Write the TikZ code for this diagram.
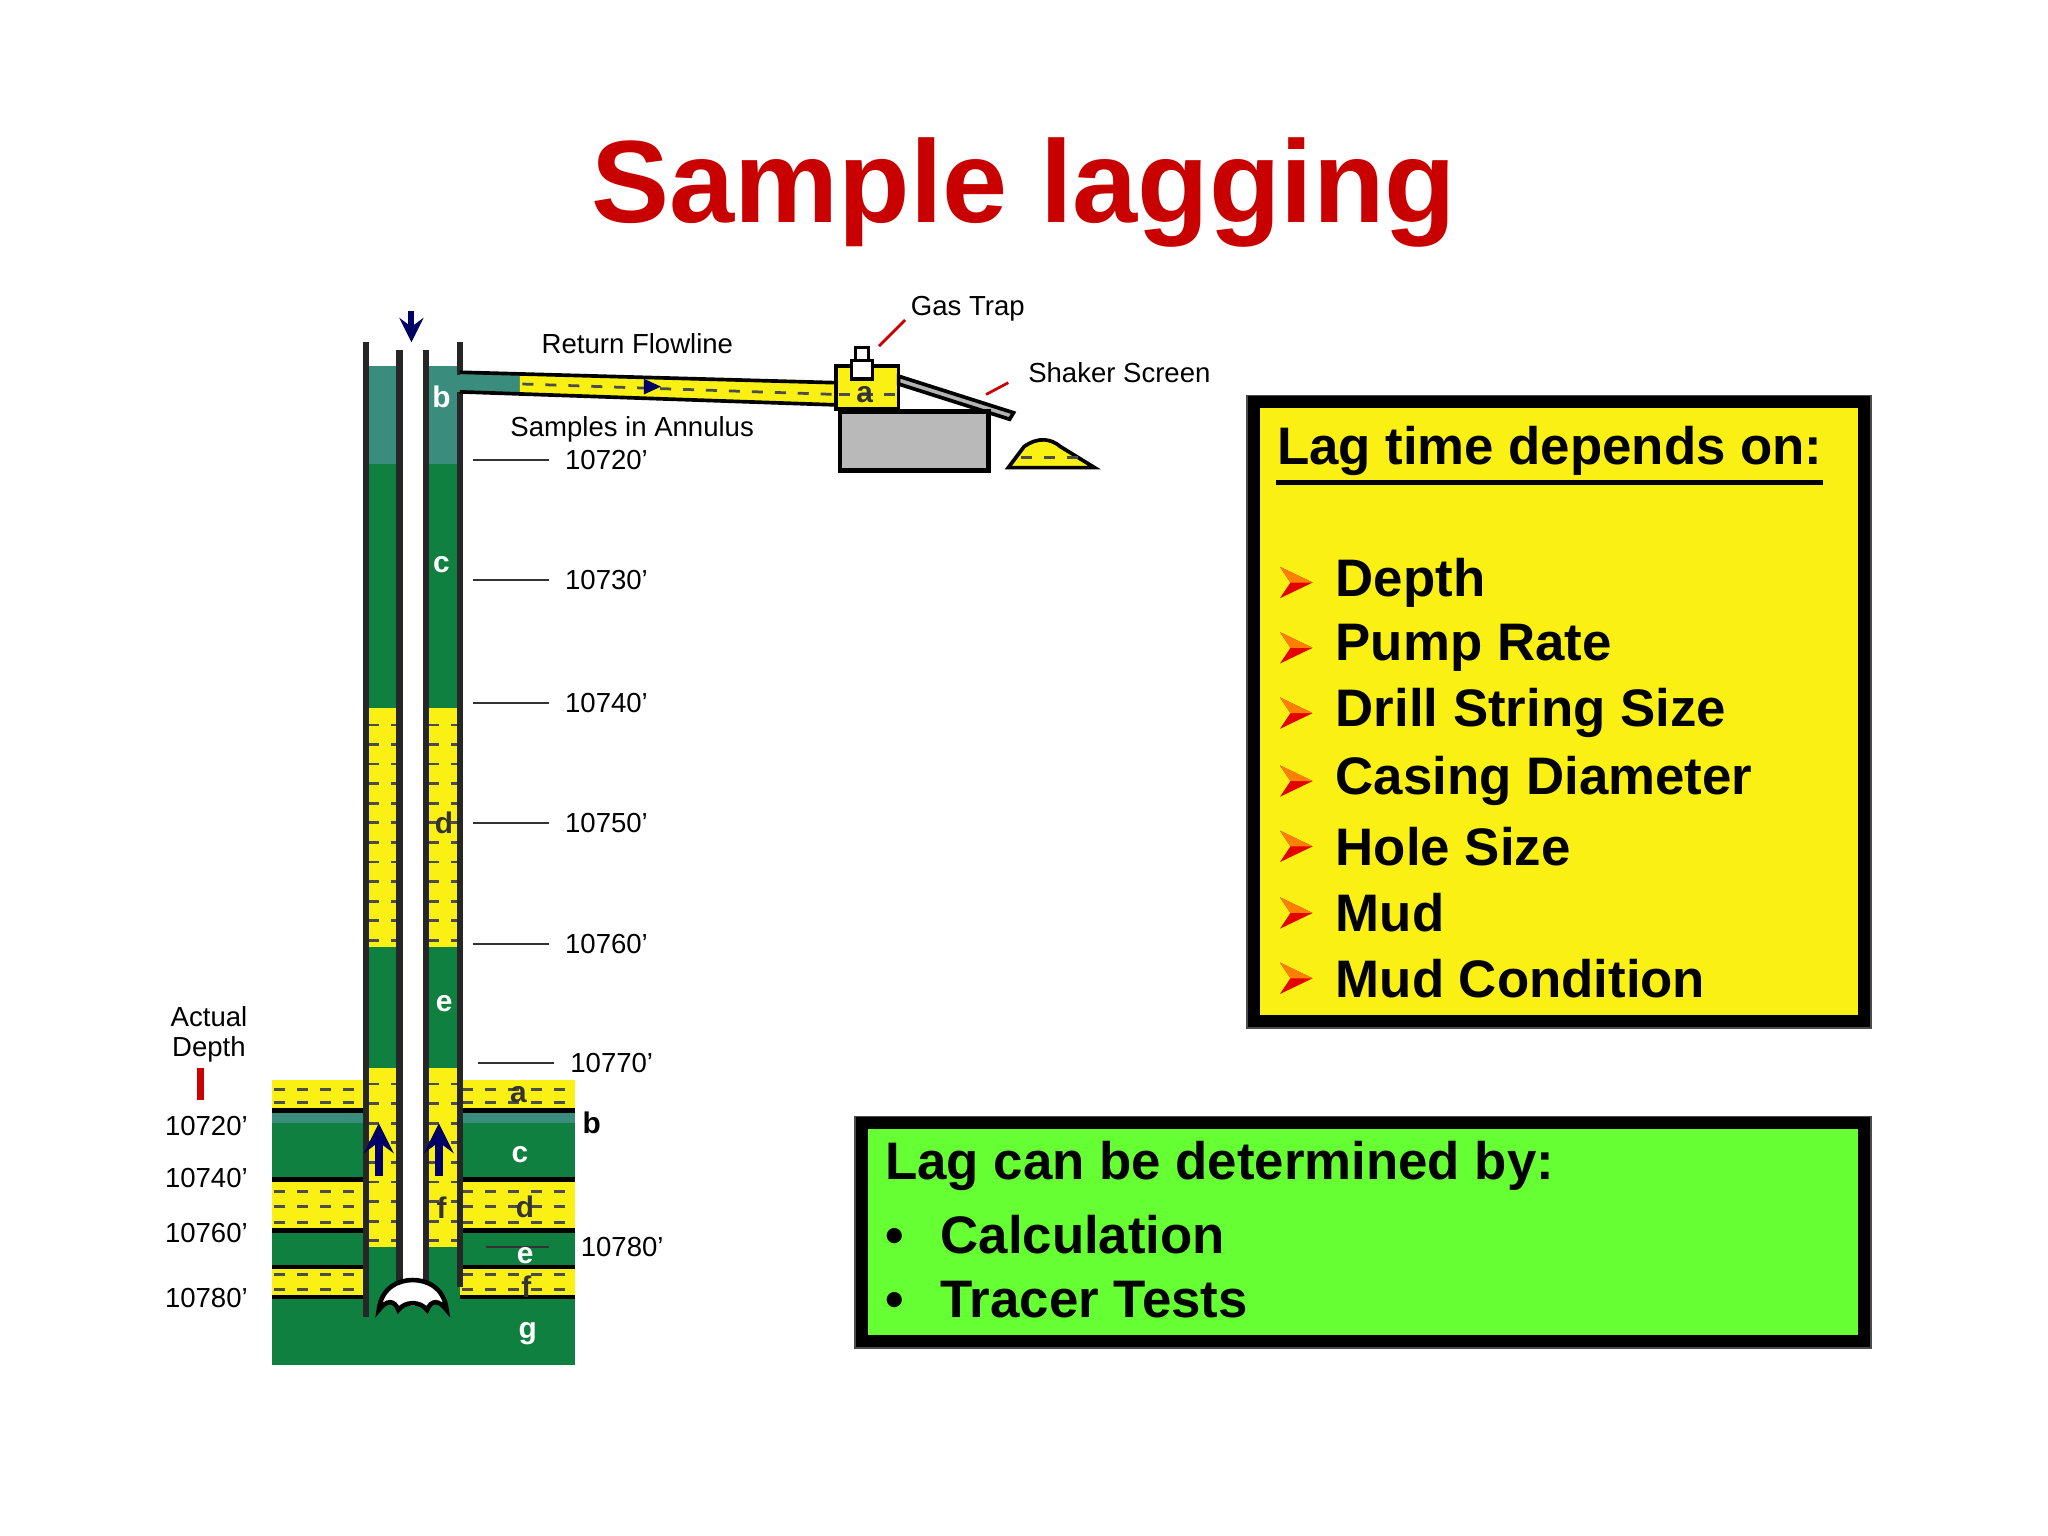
\documentclass[tikz,border=0pt]{standalone}
\usepackage{fontspec}
\setmainfont{Liberation Sans}
\begin{document}
\begin{tikzpicture}[x=0.1mm,y=-0.1mm,
  lbl/.style={font=\fontsize{6pt}{6.6pt}\selectfont,inner sep=0pt},
  let/.style={font=\bfseries\fontsize{6.5pt}{7pt}\selectfont,inner sep=0pt},
  big/.style={font=\bfseries\fontsize{11.5pt}{13pt}\selectfont,inner sep=0pt,anchor=west},
  wall/.style={line width=1.4pt,black!85},
  tick/.style={line width=0.4pt,black!80},
  dsh/.style={black!70,line width=0.6pt,dash pattern=on 2.4pt off 2.6pt}]
\definecolor{wg}{RGB}{16,128,64}
\definecolor{wt}{RGB}{58,140,125}
\definecolor{wy}{RGB}{250,240,20}
\definecolor{tred}{RGB}{200,0,0}
\definecolor{bgreen}{RGB}{102,255,51}
\useasboundingbox (0,0) rectangle (1568,1176);
\fill[white] (0,0) rectangle (1568,1176);
% title
\node[font=\bfseries\fontsize{25.5pt}{28pt}\selectfont,text=tred] (title) at (784,147) {Sample lagging};
% well annulus fills
\fill[wt] (280,280) rectangle (352,355);
\fill[wg] (280,355) rectangle (352,542);
\fill[wy] (280,542) rectangle (352,725);
\fill[wg] (280,725) rectangle (352,818);
\fill[wy] (280,818) rectangle (352,955);
% formations
\fill[wy] (208,827) rectangle (280,850); \fill[wy] (352,827) rectangle (440,850);
\fill[wt] (208,850) rectangle (280,860); \fill[wt] (352,850) rectangle (440,860);
\fill[wg] (208,860) rectangle (280,903); \fill[wg] (352,860) rectangle (440,903);
\fill[wy] (208,903) rectangle (280,942); \fill[wy] (352,903) rectangle (440,942);
\fill[wg] (208,942) rectangle (280,970); \fill[wg] (352,942) rectangle (440,970);
\fill[wy] (208,970) rectangle (280,993); \fill[wy] (352,970) rectangle (440,993);
\fill[wg] (208,993) rectangle (440,1045);
\fill[wg] (280,955) rectangle (352,1008);
% formation boundary lines
\foreach \yy in {850,903,942,970,993}{
  \draw[black,line width=1pt] (208,\yy) -- (280,\yy); \draw[black,line width=1pt] (352,\yy) -- (440,\yy);}
% dashes in yellow areas
\foreach \yy in {555,570,...,720}{\draw[dsh] (282,\yy) -- (304,\yy); \draw[dsh] (328,\yy) -- (350,\yy);}
\foreach \yy in {830,845,...,950}{\draw[dsh] (282,\yy) -- (304,\yy); \draw[dsh] (328,\yy) -- (350,\yy);}
\foreach \yy in {834,844}{\draw[dsh] (210,\yy) -- (278,\yy); \draw[dsh] (354,\yy) -- (438,\yy);}
\foreach \yy in {912,924,936}{\draw[dsh] (210,\yy) -- (278,\yy); \draw[dsh] (354,\yy) -- (438,\yy);}
\foreach \yy in {976,987}{\draw[dsh] (210,\yy) -- (278,\yy); \draw[dsh] (354,\yy) -- (438,\yy);}
% pipe (white) and walls
\fill[white] (306,262) rectangle (326,1000);
\draw[wall] (280,262) -- (280,1008);
\draw[wall] (352,262) -- (352,287);
\draw[wall] (352,300) -- (352,985);
\draw[wall] (306,268) -- (306,990);
\draw[wall] (326,268) -- (326,990);
% bit
\draw[fill=white,line width=1pt] (290,1003) .. controls (292,985) and (306,980) .. (316,980)
  .. controls (326,980) and (340,985) .. (342,1003) .. controls (336,995) and (330,995) .. (327,1003)
  .. controls (322,996) and (310,996) .. (305,1003) .. controls (302,995) and (296,995) .. (290,1003) -- cycle;
% down arrow
\coordinate (dtop) at (315,238); \coordinate (dbot) at (315,262);
\draw[-stealth,line width=1.3pt,blue!40!black] (dtop) -- (dbot);
% up arrows
\coordinate (u1a) at (290,900); \coordinate (u1b) at (290,860);
\coordinate (u2a) at (336,900); \coordinate (u2b) at (336,860);
\draw[-stealth,line width=1.8pt,blue!40!black] (u1a) -- (u1b);
\draw[-stealth,line width=1.8pt,blue!40!black] (u2a) -- (u2b);
% flowline
\fill[wt] (352,285) -- (398,286) -- (398,301) -- (352,300) -- cycle;
\fill[wy] (398,286) -- (640,293) -- (640,310) -- (398,301) -- cycle;
\draw[black,line width=0.8pt] (352,285) -- (640,293);
\draw[black,line width=0.8pt] (352,300) -- (640,310);
\draw[dsh] (400,294) -- (640,302);
\fill[blue!40!black] (493,290) -- (506,296) -- (493,302) -- cycle;
% gas trap
\draw[fill=wy,line width=0.8pt] (640,280) rectangle (688,313);
\draw[dsh] (642,302) -- (686,302);
\draw[fill=white,line width=0.8pt] (652,276) rectangle (668,290);
\draw[fill=white,line width=0.8pt] (655,266) rectangle (665,276);
\node[let,text=black!80] (ga) at (662,302) {a};
% shaker
\draw[fill=gray!60,line width=0.8pt] (688,288) -- (776,316) -- (773,321) -- (688,294) -- cycle;
\draw[fill=gray!55,line width=1pt] (643,315) rectangle (757,360);
\draw[fill=wy,line width=0.8pt] (772,358) -- (784,342) .. controls (795,334) and (805,336) .. (812,342) -- (838,358) -- cycle;
\draw[dsh] (782,350) -- (828,350);
% labels top
\node[lbl] (gt) at (741,236) {Gas Trap};
\node[lbl] (rf) at (488,263) {Return Flowline};
\node[lbl] (ss) at (857,285) {Shaker Screen};
\node[lbl] (sa) at (484,329) {Samples in Annulus};
\coordinate (gt1) at (673,265); \coordinate (gt2) at (693,245);
\draw[red!80!black,line width=0.6pt] (gt1) -- (gt2);
\coordinate (ss1) at (755,302); \coordinate (ss2) at (772,293);
\draw[red!80!black,line width=0.6pt] (ss1) -- (ss2);
% depth ticks
\foreach \yy/\t in {352/10720,444/10730,538/10740,630/10750,723/10760}{
  \draw[tick] (362,\yy) -- (420,\yy);
  \node[lbl,anchor=west] (d\t) at (432,\yy) {\t'};}
\draw[tick] (366,814) -- (424,814);
\node[lbl,anchor=west] (d10770) at (436,814) {10770'};
\draw[tick] (372,955) -- (420,955);
\node[lbl,anchor=west] (d10780) at (444,955) {10780'};
% well letters
\node[let,text=white] (lb) at (338,304) {b};
\node[let,text=white] (lc) at (338,432) {c};
\node[let,text=black!80] (ld) at (340,630) {d};
\node[let,text=white] (le) at (340,768) {e};
\node[let,text=black!80] (lf) at (338,925) {f};
\node[let,text=black!80] (fa) at (397,838) {a};
\node[let,text=black] (fb) at (453,860) {b};
\node[let,text=white] (fc) at (398,884) {c};
\node[let,text=black!80] (fd) at (402,924) {d};
\node[let,text=white] (fe) at (402,961) {e};
\node[let,text=black!80] (ff) at (403,985) {f};
\node[let,text=white] (fg) at (404,1021) {g};
% actual depth
\node[lbl,align=center] (ad) at (160,792) {Actual\\Depth};
\fill[red!80!black] (151,818) rectangle (156,842);
\foreach \yy/\t in {862/10720,902/10740,944/10760,994/10780}{
  \node[lbl] (a\t) at (158,\yy) {\t'};}
% yellow box
\draw[black!70,line width=0.5pt] (955,303) rectangle (1432,787);
\draw[fill=wy,line width=2.6pt] (960,308) rectangle (1427,782);
\node[big] (lt) at (977,345) {Lag time depends on:};
\draw[line width=1pt] ([yshift=-4pt]lt.base west) -- ([yshift=-4pt]lt.base east);
\foreach \yy/\t [count=\i] in {446/Depth,496/Pump Rate,546/Drill String Size,598/Casing Diameter,648/Hole Size,699/Mud,749/Mud Condition}{
  \fill[red!90!black] (980,\yy-12) -- (1005,\yy) -- (980,\yy+12) -- (988,\yy) -- cycle;
  \fill[orange] (980,\yy-12) -- (1005,\yy) -- (988,\yy) -- cycle;
  \node[big] (it\i) at (1022,\yy) {\t};}
% green box
\draw[black!70,line width=0.5pt] (655,855) rectangle (1432,1032);
\draw[fill=bgreen,line width=2.6pt] (660,860) rectangle (1427,1027);
\node[big] (gb) at (677,893) {Lag can be determined by:};
\node[big] (gb1) at (677,945) {•\hspace{0.7em}Calculation};
\node[big] (gb2) at (677,995) {•\hspace{0.7em}Tracer Tests};
\end{tikzpicture}
\end{document}
